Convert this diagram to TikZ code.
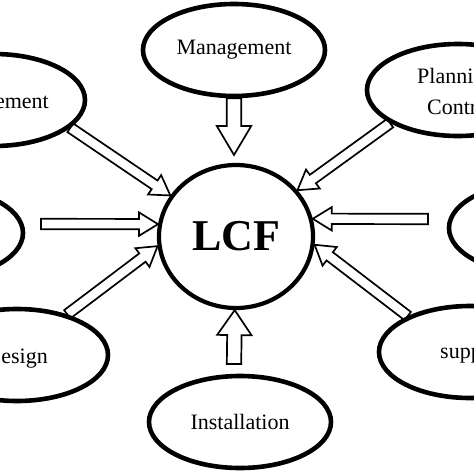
\documentclass[tikz,border=0pt]{standalone}
\usepackage{fontspec}
\setmainfont{Liberation Serif}
\usetikzlibrary{shapes,calc,backgrounds,positioning}
\begin{document}
\begin{tikzpicture}[
                x=1pt,y=-1pt,
                topic/.style={ellipse,draw,line width=4.6pt,fill=white,
                              minimum width=182pt,minimum height=92pt,inner sep=0pt,
                              font=\fontsize{22}{26}\selectfont},
                core/.style={ellipse,draw,line width=4.2pt,fill=white,
                             minimum width=154pt,minimum height=143pt,inner sep=0pt,
                             font=\fontsize{44}{48}\selectfont\bfseries},
                wordpart/.style={font=\fontsize{22}{26}\selectfont,inner sep=0pt},
                feed/.style n args={3}{draw,fill=white,line width=1.7pt,
                    to path={($(\tikztostart)!#1!90:(\tikztotarget)$)
                        -- ($(\tikztotarget)!#3!(\tikztostart)!#1!-90:(\tikztostart)$)
                        -- ($(\tikztotarget)!#3!(\tikztostart)!#2!-90:(\tikztostart)$)
                        -- (\tikztotarget)
                        -- ($(\tikztotarget)!#3!(\tikztostart)!#2!90:(\tikztostart)$)
                        -- ($(\tikztotarget)!#3!(\tikztostart)!#1!90:(\tikztostart)$)
                        -- ($(\tikztostart)!#1!-90:(\tikztotarget)$) -- cycle}}
            ]
                \useasboundingbox (0,0) rectangle (474,474);
                \clip (0,0) rectangle (474,474);
                % outer ring
                \node[topic] (mgmt) at (234,50) {Management};
                \node[topic] (procure) at (-6,100) {};
                \node[topic] (plan) at (458,90) {};
                \node[topic] (leftside) at (-68,233) {};
                \node[topic] (rightside) at (540,228) {};
                \node[topic] (design) at (17,355) {};
                \node[topic] (supply) at (470,352) {};
                \node[topic] (install) at (240,422) {Installation};
                \node[core] (lcf) at (236,236.5) {LCF};
                % cut texts
                \node[wordpart,anchor=base east] (procuretext) at (49,108) {ement};
                \node[wordpart,anchor=base east] (designtext) at (48,363) {esign};
                \node[wordpart,anchor=base west] (plantext) at (417,83) {Planni};
                \node[wordpart,anchor=base west] (plantextb) at (427,114) {Contr};
                \node[wordpart,anchor=base west] (supplytext) at (440,358) {supp};
                % free ends
                \coordinate (mgmttip) at (234,155);
                \coordinate (instfoot) at (234,364);
                \coordinate (leftfoot) at (41,224);
                \coordinate (rightfoot) at (428,219);
                \begin{scope}[on background layer]
                    \draw[feed={7.2pt}{17.2pt}{29pt}] (mgmt.south) to (mgmttip);
                    \draw[feed={7.2pt}{17.2pt}{25pt}] (instfoot) to (lcf.-91);
                    \draw[feed={5.2pt}{11.7pt}{19pt}] (leftfoot) to (lcf.171);
                    \draw[feed={5.2pt}{11.7pt}{19pt}] (rightfoot) to (lcf.13);
                    \draw[feed={5.2pt}{11.7pt}{19pt}] (procure.-20) to (lcf.148);
                    \draw[feed={5.2pt}{11.7pt}{19pt}] (plan.206) to (lcf.37);
                    \draw[feed={5.2pt}{11.7pt}{19pt}] (design.39) to (lcf.187);
                    \draw[feed={5.2pt}{11.7pt}{19pt}] (supply.150) to (lcf.-6);
                \end{scope}
            \end{tikzpicture}
\end{document}
